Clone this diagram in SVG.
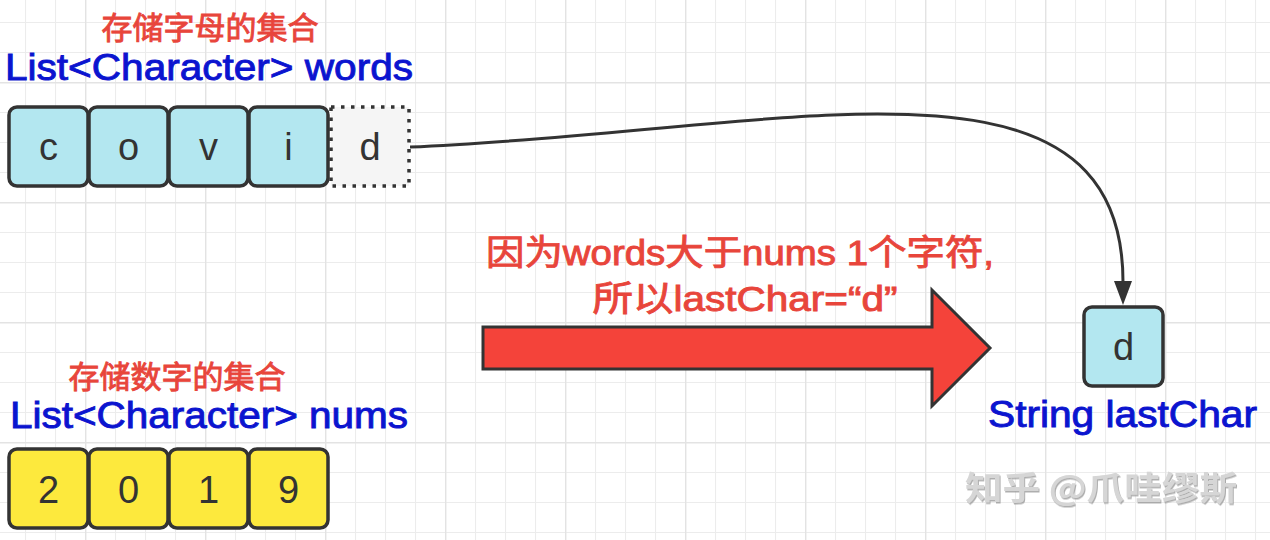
<svg xmlns="http://www.w3.org/2000/svg" width="1270" height="540" viewBox="0 0 1270 540">
<defs>
<pattern id="minor" patternUnits="userSpaceOnUse" x="25" y="22" width="30" height="30">
<path d="M0.5,0 V30 M0,0.5 H30" stroke="#ececec" stroke-width="1.2" fill="none"/>
</pattern>
<pattern id="major" patternUnits="userSpaceOnUse" x="85" y="82" width="120" height="120">
<path d="M0.5,0 V120 M0,0.5 H120" stroke="#e3e3e3" stroke-width="1.8" fill="none"/>
</pattern>
<marker id="ah" markerUnits="userSpaceOnUse" viewBox="0 0 24 18" refX="1" refY="9" markerWidth="24" markerHeight="18" orient="auto">
<path d="M0,0 L24,9 L0,18 Z" fill="#333"/>
</marker>
<filter id="wm" x="-5%" y="-20%" width="110%" height="140%">
<feDropShadow dx="1" dy="1.5" stdDeviation="0.6" flood-color="#9a9a9a" flood-opacity="0.8"/>
</filter>
</defs>
<style>
.cell{stroke:#333;stroke-width:3.5}
.cyan{fill:#b3e7f0}
.yel{fill:#fde93d}
.ch{font-family:"Liberation Sans","Noto Sans CJK SC",sans-serif;font-size:38px;fill:#333;text-anchor:middle}
.red{font-family:"Liberation Sans","Noto Sans CJK SC",sans-serif;fill:#e8453b;stroke:#e8453b;stroke-width:0.9;text-anchor:middle}
.blue{font-family:"Liberation Sans","Noto Sans CJK SC",sans-serif;fill:#0b14cf;stroke:#0b14cf;stroke-width:0.9;font-size:36px}
</style>
<rect width="1270" height="540" fill="#fff"/>
<rect width="1270" height="540" fill="url(#minor)"/>
<rect width="1270" height="540" fill="url(#major)"/>

<g id="words">
<text class="red" x="210" y="39" font-size="31">存储字母的集合</text>
<text class="blue" x="5" y="80" textLength="408" lengthAdjust="spacingAndGlyphs">List&lt;Character&gt; words</text>
<rect class="cell cyan" x="9" y="107" width="79" height="79" rx="8"/>
<text class="ch" x="48.5" y="160">c</text>
<rect class="cell cyan" x="89" y="107" width="79" height="79" rx="8"/>
<text class="ch" x="128.5" y="160">o</text>
<rect class="cell cyan" x="169" y="107" width="79" height="79" rx="8"/>
<text class="ch" x="208.5" y="160">v</text>
<rect class="cell cyan" x="249" y="107" width="79" height="79" rx="8"/>
<text class="ch" x="288.5" y="160">i</text>
</g>
<g id="d-extra">
<rect x="331" y="107" width="78" height="79" fill="#f5f5f5" stroke="#333" stroke-width="3.5" stroke-dasharray="3.5 6.5"/>
<text class="ch" x="370" y="160">d</text>
</g>

<g id="nums">
<text class="red" x="177" y="388" font-size="31">存储数字的集合</text>
<text class="blue" x="10" y="428" textLength="398" lengthAdjust="spacingAndGlyphs">List&lt;Character&gt; nums</text>
<rect class="cell yel" x="9" y="449" width="79" height="79" rx="8"/>
<text class="ch" x="48.5" y="503">2</text>
<rect class="cell yel" x="89" y="449" width="79" height="79" rx="8"/>
<text class="ch" x="128.5" y="503">0</text>
<rect class="cell yel" x="169" y="449" width="79" height="79" rx="8"/>
<text class="ch" x="208.5" y="503">1</text>
<rect class="cell yel" x="249" y="449" width="79" height="79" rx="8"/>
<text class="ch" x="288.5" y="503">9</text>
</g>

<g id="bigarrow">
<polygon points="483,327 932,327 932,290 990,348 932,406 932,369 483,369" fill="#f4433a" stroke="#333" stroke-width="3" stroke-linejoin="miter"/>
<text class="red" x="740" y="265" font-size="35" textLength="508" lengthAdjust="spacingAndGlyphs">因为words大于nums 1个字符,</text>
<text class="red" x="745" y="311" font-size="35" textLength="305" lengthAdjust="spacingAndGlyphs">所以lastChar=“d”</text>
</g>

<g id="lastChar">
<rect class="cell cyan" x="1084" y="307" width="79" height="79" rx="8"/>
<text class="ch" x="1123.5" y="360">d</text>
<text class="blue" x="988" y="427" textLength="269" lengthAdjust="spacingAndGlyphs">String lastChar</text>
</g>

<g id="connectors">
<path d="M410,147 C780,132 1123,30 1123,282" fill="none" stroke="#333" stroke-width="3" marker-end="url(#ah)"/>
</g>

<g id="watermark">
<text x="965" y="500" font-family="'Noto Sans CJK SC',sans-serif" font-size="33" font-weight="bold" fill="#d6d6d6" filter="url(#wm)" textLength="272" lengthAdjust="spacingAndGlyphs">知乎 @爪哇缪斯</text>
</g>
</svg>
